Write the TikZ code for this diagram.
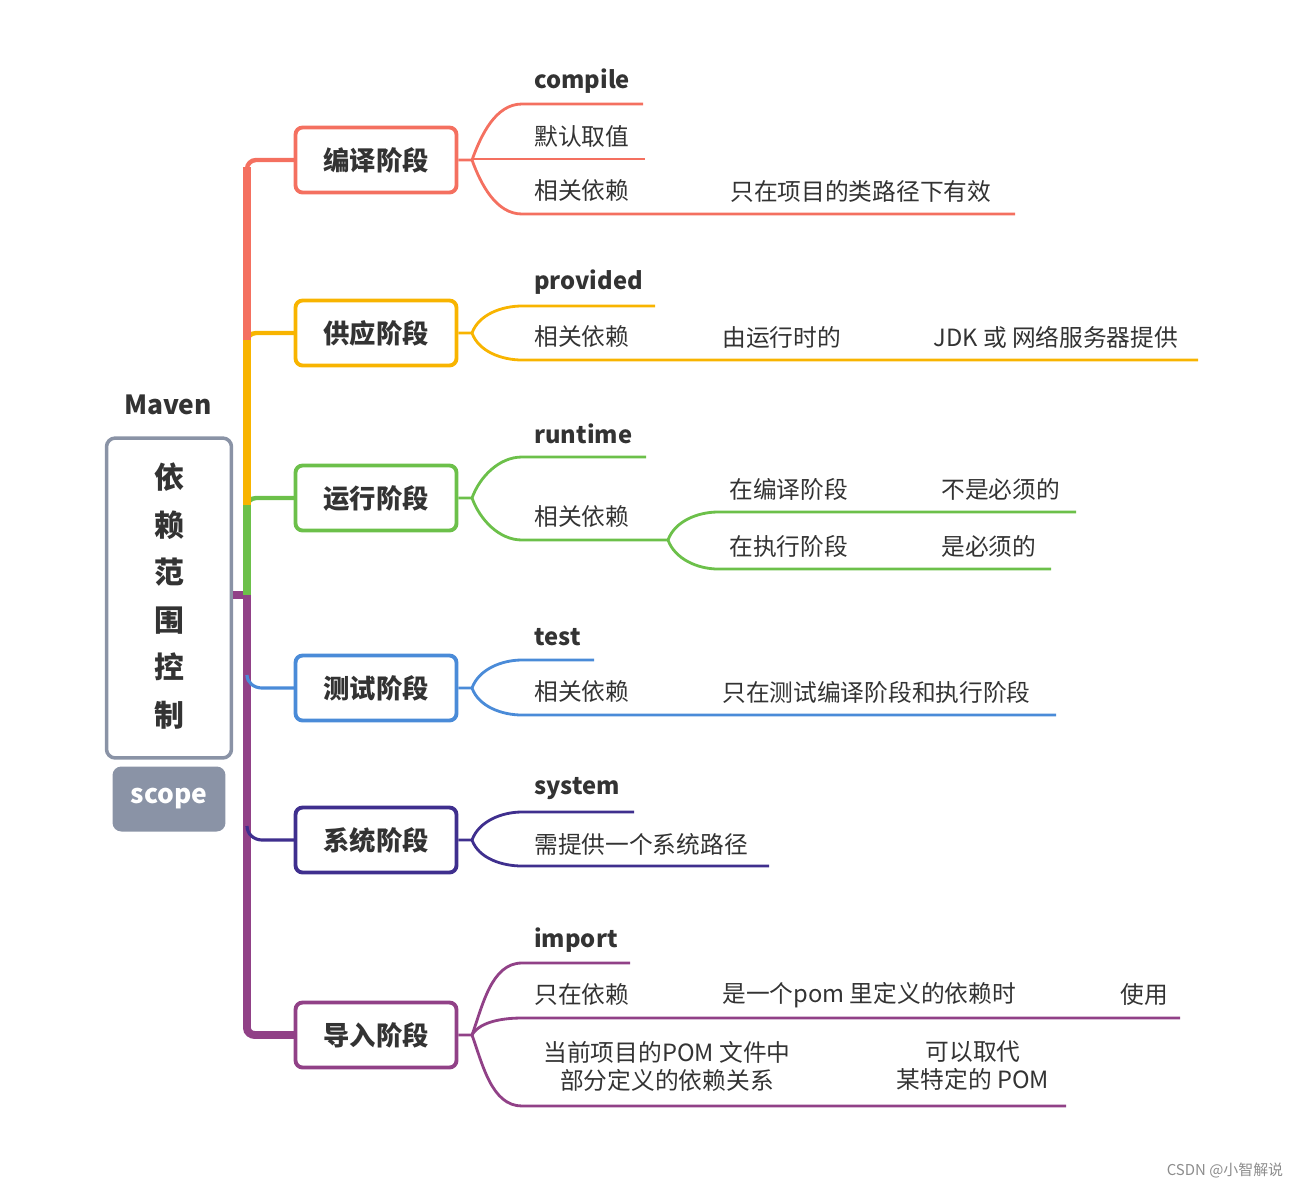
\documentclass[tikz,border=0pt]{standalone}
\usepackage{fontspec}
\setmainfont{Noto Sans CJK SC}
\definecolor{cR}{HTML}{F47060}
\definecolor{cY}{HTML}{F8B400}
\definecolor{cG}{HTML}{6CC04A}
\definecolor{cB}{HTML}{4A8BD8}
\definecolor{cN}{HTML}{3F2F8E}
\definecolor{cP}{HTML}{914187}
\definecolor{cS}{HTML}{8A93A6}
\begin{document}
\begin{tikzpicture}[x=0.02cm,y=-0.02cm,
  stage/.style={draw=#1,line width=2.2pt,rounded corners=4pt,minimum width=3.22cm,minimum height=1.3cm,font=\fontsize{15}{17}\selectfont\bfseries,text=black!80},
  lbl/.style={anchor=west,font=\fontsize{13.5}{16}\selectfont,text=black!80,inner sep=0pt},
  blbl/.style={lbl,font=\fontsize{13.5}{16}\selectfont\bfseries},
  ln/.style={draw=#1,line width=1.6pt},
  up/.style={out=70,in=180,looseness=0.9},
  dn/.style={out=-70,in=180,looseness=0.9}]
\useasboundingbox (0,0) rectangle (1309,1188);
% central
\node[draw=cS,line width=2pt,rounded corners=5pt,minimum width=2.5cm,minimum height=6.4cm] (main) at (169,598) {};
\node[font=\fontsize{17}{22}\selectfont\bfseries,text=black!80,align=center] (mt) at (169,596) {依\\[5pt]赖\\[5pt]范\\[5pt]围\\[5pt]控\\[5pt]制};
\node[font=\fontsize{15}{18}\selectfont\bfseries,text=black!80] (mv) at (168,405) {Maven};
\node[fill=cS,rounded corners=5pt,minimum width=2.26cm,minimum height=1.3cm,text=white,font=\fontsize{15}{18}\selectfont\bfseries] (sc) at (169,799) {scope};
% trunk
\draw[cP,line width=4.5pt] (main.east|-0,595) -- (247,595) -- (247,1028) to[out=-90,in=180] (255,1035) -- (296,1035);
\draw[cG,line width=4.5pt] (247,595) -- (247,505);
\draw[cG,line width=2.5pt] (247,507) to[out=90,in=180] (256,498) -- (296,498);
\draw[cY,line width=4.5pt] (247,505) -- (247,340);
\draw[cY,line width=2.5pt] (247,342) to[out=90,in=180] (256,333) -- (296,333);
\draw[cR,line width=4.5pt] (247,340) -- (247,167);
\draw[cR,line width=2.5pt] (247,169) to[out=90,in=180] (256,160) -- (296,160);
\draw[cB,line width=1.8pt] (247,675) to[out=-90,in=180] (262,688) -- (296,688);
\draw[cN,line width=1.8pt] (247,826) to[out=-90,in=180] (262,840) -- (296,840);
% stage nodes
\node[stage=cR] (s1) at (376,160) {编译阶段};
\node[stage=cY] (s2) at (376,333) {供应阶段};
\node[stage=cG] (s3) at (376,498) {运行阶段};
\node[stage=cB] (s4) at (376,688) {测试阶段};
\node[stage=cN] (s5) at (376,840) {系统阶段};
\node[stage=cP] (s6) at (376,1035) {导入阶段};
% red
\draw[ln=cR] (s1.east) -- (472,160) to[up] (522,104) -- (643,104);
\draw[ln=cR] (472,160) to[dn] (522,214) -- (1015,214);
\draw[ln=cR] (472,159) -- (645,159);
\node[blbl] (t11) at (534,81) {compile};
\node[lbl] (t12) at (534,136) {默认取值};
\node[lbl] (t13) at (534,191) {相关依赖};
\node[lbl] (t14) at (730,191) {只在项目的类路径下有效};
% yellow
\draw[ln=cY] (s2.east) -- (472,333) to[up] (522,306) -- (655,306);
\draw[ln=cY] (472,333) to[dn] (522,360) -- (1198,360);
\node[blbl] (t21) at (534,282) {provided};
\node[lbl] (t22) at (534,337) {相关依赖};
\node[lbl] (t23) at (722,337) {由运行时的};
\node[lbl] (t24) at (933,337) {JDK 或 网络服务器提供};
% green
\draw[ln=cG] (s3.east) -- (472,498) to[up] (522,457) -- (646,457);
\draw[ln=cG] (472,498) to[dn] (522,540) -- (668,540);
\draw[ln=cG] (668,540) to[up] (718,512) -- (1076,512);
\draw[ln=cG] (668,540) to[dn] (718,569) -- (1051,569);
\node[blbl] (t31) at (534,434) {runtime};
\node[lbl] (t32) at (534,517) {相关依赖};
\node[lbl] (t33) at (729,489) {在编译阶段};
\node[lbl] (t34) at (941,489) {不是必须的};
\node[lbl] (t35) at (729,546) {在执行阶段};
\node[lbl] (t36) at (941,546) {是必须的};
% blue
\draw[ln=cB] (s4.east) -- (472,688) to[up] (522,660) -- (594,660);
\draw[ln=cB] (472,688) to[dn] (522,715) -- (1056,715);
\node[blbl] (t41) at (534,637) {test};
\node[lbl] (t42) at (534,692) {相关依赖};
\node[lbl] (t43) at (722,692) {只在测试编译阶段和执行阶段};
% navy
\draw[ln=cN] (s5.east) -- (472,840) to[up] (522,812) -- (634,812);
\draw[ln=cN] (472,840) to[dn] (522,866) -- (769,866);
\node[blbl] (t51) at (534,789) {system};
\node[lbl] (t52) at (534,844) {需提供一个系统路径};
% purple
\draw[ln=cP] (s6.east) -- (472,1035) to[up] (522,963) -- (630,963);
\draw[ln=cP] (472,1035) to[dn] (522,1106) -- (1066,1106);
\draw[ln=cP] (472,1035) to[out=60,in=180,looseness=0.8] (522,1018) -- (1180,1018);
\node[blbl] (t61) at (534,940) {import};
\node[lbl] (t62) at (534,995) {只在依赖};
\node[lbl] (t63) at (722,995) {是一个pom 里定义的依赖时};
\node[lbl] (t64) at (1120,995) {使用};
\node[lbl,anchor=center,align=center,font=\fontsize{13.5}{16}\selectfont] (t65) at (667,1066) {当前项目的POM 文件中\\部分定义的依赖关系};
\node[lbl,anchor=center,align=center,font=\fontsize{13.5}{16}\selectfont] (t66) at (973,1066) {可以取代\\某特定的 POM};
\node[font=\fontsize{8.5}{10}\selectfont,text=black!45] (wm) at (1225,1170) {CSDN @小智解说};
\end{tikzpicture}
\end{document}
